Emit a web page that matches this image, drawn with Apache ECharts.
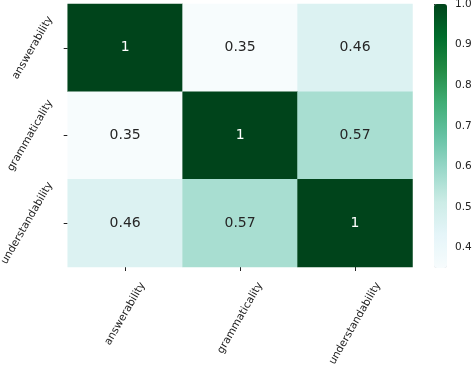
<!DOCTYPE html>
<html>
<head>
<meta charset="utf-8">
<script src="https://cdn.jsdelivr.net/npm/echarts@6/dist/echarts.min.js"></script>
<style>html,body{margin:0;padding:0;background:#fff}#c{width:474px;height:366px}</style>
</head>
<body>
<div id="c"></div>
<script>
const categories = ['answerability', 'grammaticality', 'understandability'];
const row0 = [1, 0.35, 0.46];
const row1 = [0.35, 1, 0.57];
const row2 = [0.46, 0.57, 1];
const colorbarTicks = [0.4, 0.5, 0.6, 0.7, 0.8, 0.9, 1.0];
const vmin = 0.35, vmax = 1.0;

const rows = [row0, row1, row2];
const BuGn = ['#f7fcfd','#e5f5f9','#ccece6','#99d8c9','#66c2a4','#41ae76','#238b45','#006d2c','#00441b'];

const FONT = 'DejaVu Sans';
const LBL = 10.6;
const LH = 12;
const cv = document.createElement('canvas').getContext('2d');
cv.font = LBL + 'px "' + FONT + '"';
const fh = LBL * 1.17;
const c60 = 0.5, s60 = Math.sqrt(3) / 2;

// Place a 60-degree rotated label so that its centre is shifted from the
// axis anchor by `along` (text direction) and `perp` (text-down direction).
function lblStyle(along, perp) {
  const pad = [0, 0, 0, 0];
  if (along >= 0) pad[3] = 2 * along; else pad[1] = -2 * along;
  let va;
  if (perp >= 0) { va = 'top'; pad[0] = Math.max(0, perp - LH / 2); }
  else { va = 'bottom'; pad[2] = Math.max(0, -perp - LH / 2); }
  return { padding: pad, align: 'center', verticalAlign: va, lineHeight: LH,
    fontFamily: FONT, fontSize: LBL, color: '#222' };
}
const xData = categories.map(function (name) {
  const L = cv.measureText(name).width;
  const H = L * s60 + fh * c60;
  const dy = H / 2;               // want screen shift (0, dy)
  return { value: name, textStyle: lblStyle(-s60 * dy, c60 * dy) };
});
const yData = categories.map(function (name) {
  const L = cv.measureText(name).width;
  const W = L * c60 + fh * s60;
  const dx = -W / 2;              // want screen shift (dx, 0)
  return { value: name, textStyle: lblStyle(c60 * dx, s60 * dx) };
});

const data = [];
rows.forEach(function (r, ri) {
  r.forEach(function (v, ci) {
    data.push({
      value: [ci, ri, v],
      label: { color: v > 0.8 ? '#ffffff' : '#262626' }
    });
  });
});

const chart = echarts.init(document.getElementById('c'), null, { renderer: 'canvas' });
chart.setOption({
  animation: false,
  backgroundColor: '#ffffff',
  grid: [
    { left: 67.7, right: 61.5, top: 4, bottom: 99, containLabel: false, outerBoundsMode: 'none' },
    { left: 434, width: 13, top: 4, height: 264, containLabel: false, outerBoundsMode: 'none' }
  ],
  xAxis: [
    {
      type: 'category', gridIndex: 0, data: xData, position: 'bottom',
      axisLine: { show: false },
      axisTick: { show: true, alignWithLabel: true, length: 4, lineStyle: { color: '#222' } },
      axisLabel: { interval: 0, rotate: 60, margin: 13,
        fontFamily: FONT, fontSize: LBL, color: '#222' },
      splitLine: { show: false }
    },
    { type: 'value', gridIndex: 1, show: false }
  ],
  yAxis: [
    {
      type: 'category', gridIndex: 0, data: yData, inverse: true,
      axisLine: { show: false },
      axisTick: { show: true, alignWithLabel: true, length: 4, lineStyle: { color: '#222' } },
      axisLabel: { interval: 0, rotate: 60, margin: 12,
        fontFamily: FONT, fontSize: LBL, color: '#222' },
      splitLine: { show: false }
    },
    {
      type: 'value', gridIndex: 1, position: 'right', min: vmin, max: vmax,
      axisLine: { show: false },
      splitLine: { show: false },
      axisTick: { show: true, length: 5, customValues: colorbarTicks, lineStyle: { color: '#222' } },
      axisLabel: { customValues: colorbarTicks, margin: 8, fontFamily: FONT, fontSize: 10.5, color: '#222',
        formatter: function (v) { return v.toFixed(1); } }
    }
  ],
  visualMap: {
    type: 'continuous', seriesIndex: 0, min: vmin, max: vmax,
    left: 434, top: 4, itemWidth: 13, itemHeight: 264, padding: 0,
    calculable: false, text: ['', ''], showLabel: false, hoverLink: false,
    inRange: { color: BuGn }
  },
  series: [
    {
      type: 'heatmap', xAxisIndex: 0, yAxisIndex: 0, data: data,
      label: { show: true, fontFamily: FONT, fontSize: 14,
        formatter: function (p) { return String(p.value[2]); } },
      itemStyle: { borderWidth: 0 },
      emphasis: { disabled: true }
    },
    { type: 'line', xAxisIndex: 1, yAxisIndex: 1, data: [], silent: true }
  ]
});
</script>
</body>
</html>
